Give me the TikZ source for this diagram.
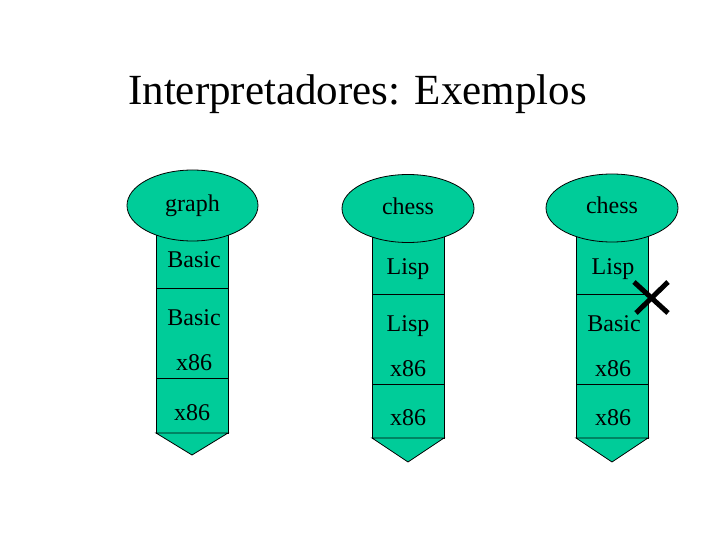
\documentclass[tikz,border=0pt]{standalone}
\usepackage{fontspec}
\setmainfont{Liberation Serif}
\usepackage{tikz}
\usetikzlibrary{shapes.geometric}
\definecolor{lang}{RGB}{0,204,153}
\tikzset{
  >=latex,
}
\tikzstyle{body}=[draw=black,fill=lang,line width=0.8pt]
\tikzstyle{head}=[ellipse,draw=black,fill=lang,line width=0.8pt,inner sep=0pt,
  minimum width=132pt,minimum height=68pt,text height=16pt,text depth=4pt]
\tikzstyle{every node}=[font=\fontsize{24}{28}\selectfont]
\tikzstyle{tag}=[inner sep=0pt,text height=16pt,text depth=0pt]
\tikzstyle{cross}=[line width=5pt]

\begin{document}
\begin{tikzpicture}[x=1pt,y=-1pt]
    \useasboundingbox (0,0) rectangle (720,540);
    \node[font=\fontsize{43}{50}\selectfont,anchor=west,inner sep=0pt,text height=28pt,text depth=0pt] (title) at (128,91) {Interpretadores: Exemplos};
    % graph / Basic / x86
    \draw[body] (156,205) rectangle (228,433);
    \draw[body] (156,433) -- (192,455) -- (228,433) -- cycle;
    \draw[thin] (156,288) -- (228,288);
    \draw[thin] (156,378) -- (228,378);
    \node[head,minimum height=71pt,minimum width=131pt] (g) at (192.5,205.5) {graph};
    \node[tag] (b1) at (194,259) {Basic};
    \node[tag] (b2) at (194,317) {Basic};
    \node[tag] (m1) at (194,362) {x86};
    \node[tag] (m2) at (192,412) {x86};
    % chess / Lisp / x86
    \draw[body] (372,208) rectangle (444,438);
    \draw[body] (372,438) -- (408,462) -- (444,438) -- cycle;
    \draw[thin] (372,294) -- (444,294);
    \draw[thin] (372,384) -- (444,384);
    \node[head] (c) at (408,208.5) {chess};
    \node[tag] (l1) at (408,266) {Lisp};
    \node[tag] (l2) at (408,323) {Lisp};
    \node[tag] (n1) at (408,368) {x86};
    \node[tag] (n2) at (408,417) {x86};
    % chess / Lisp / Basic / x86
    \draw[body] (576,208) rectangle (648,438);
    \draw[body] (576,438) -- (612,462) -- (648,438) -- cycle;
    \draw[thin] (576,294) -- (648,294);
    \draw[thin] (576,384) -- (648,384);
    \node[head] (d) at (612,208) {chess};
    \node[tag] (k1) at (613,266) {Lisp};
    \node[tag] (k2) at (614,323) {Basic};
    \node[tag] (p1) at (613,368) {x86};
    \node[tag] (p2) at (613,417) {x86};
    \draw[cross] (634,282) -- (668,313);
    \draw[cross] (636,313) -- (668,282);
\end{tikzpicture}
\end{document}
